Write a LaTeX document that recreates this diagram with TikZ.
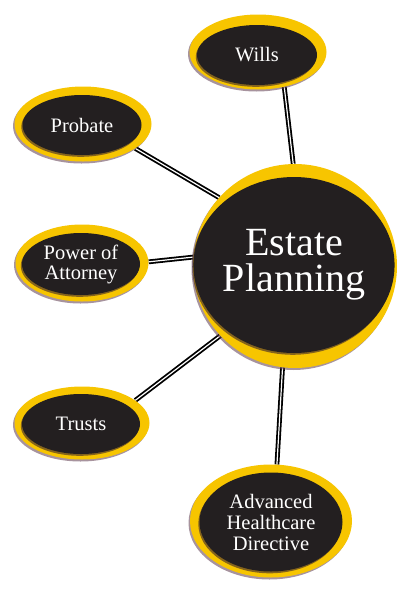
\documentclass[tikz,border=0pt]{standalone}
\usepackage{fontspec}
\setmainfont{Liberation Serif}
\usetikzlibrary{shapes.geometric,shadows,backgrounds}
\definecolor{goldring}{HTML}{F7C500}
\definecolor{coreblack}{HTML}{231F20}
\definecolor{shade}{HTML}{5E3B4E}
\tikzset{
    ring/.style={ellipse, fill=goldring, inner sep=0pt,
        drop shadow={shadow xshift=-1.5pt, shadow yshift=-2pt, fill=shade, opacity=0.55}},
    core/.style={ellipse, fill=coreblack, inner sep=0pt, text=white, align=center,
        font=\fontsize{20.5}{20}\selectfont,
        drop shadow={shadow xshift=-1.2pt, shadow yshift=-1.8pt, fill=shade!60!black, opacity=0.6}},
    link/.style={draw=black, line width=1.8pt, double=white, double distance=1.2pt}
}
\begin{document}
\begin{tikzpicture}[x=1pt, y=-1pt]
                        \useasboundingbox (0, 0) rectangle (403, 600);
                        \node[ring, minimum width=137pt, minimum height=75pt] (wills) at (258, 52) {};
                        \node[core, minimum width=120pt, minimum height=60pt] (wills core) at (257, 55) {Wills};
                        \node[ring, minimum width=137pt, minimum height=75pt] (probate) at (83, 124) {};
                        \node[core, minimum width=119pt, minimum height=60pt] (probate core) at (82, 125) {Probate};
                        \node[ring, minimum width=133pt, minimum height=77pt] (poa) at (82, 263) {};
                        \node[core, minimum width=118pt, minimum height=62pt] (poa core) at (81, 264) {Power of\\Attorney};
                        \node[ring, minimum width=135pt, minimum height=73pt] (trusts) at (82, 423) {};
                        \node[core, minimum width=118pt, minimum height=60pt] (trusts core) at (81, 424) {Trusts};
                        \node[ring, minimum width=162pt, minimum height=113pt] (advanced) at (271, 521) {};
                        \node[core, minimum width=143pt, minimum height=99pt, font=\fontsize{20.5}{21}\selectfont] (advanced core) at (271, 522) {Advanced\\Healthcare\\Directive};
                        \node[ring, minimum width=204pt, minimum height=204pt] (estate) at (295, 266) {};
                        \node[core, minimum width=176pt, minimum height=176pt, font=\fontsize{40}{36}\selectfont] (estate core) at (294, 265) {Estate\\Planning};
                        \begin{scope}[on background layer]
                            \draw[link] (wills.-53) -- (estate.91);
                            \draw[link] (probate.-25) -- (estate.138);
                            \draw[link] (poa.1) -- (estate.175);
                            \draw[link] (trusts.23) -- (estate.223);
                            \draw[link] (advanced.84) -- (estate.263);
                        \end{scope}
                    \end{tikzpicture}
\end{document}
